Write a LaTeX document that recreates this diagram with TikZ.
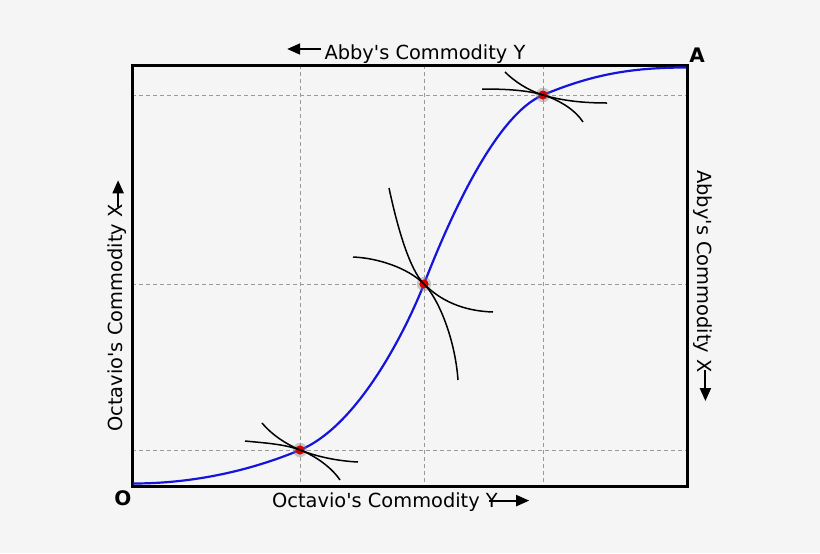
\documentclass[tikz,border=0pt]{standalone}
\usepackage{fontspec}
\setmainfont{DejaVu Sans}
\usetikzlibrary{arrows.meta}
\definecolor{bgGray}{HTML}{F5F5F5}
\definecolor{gridGray}{HTML}{9A9A9A}
\definecolor{ccBlue}{HTML}{1414DC}

\begin{document}
\begin{tikzpicture}[x=0.5pt, y=-0.5pt,
    >={Triangle[length=6.5pt,width=5.5pt]},
    font=\fontsize{9.7}{11.6}\selectfont,
    lbl/.style={inner sep=0pt},
    axarrow/.style={->, line width=1pt},
    gridline/.style={gridGray, line width=0.5pt, dash pattern=on 2pt off 1.5pt},
    icurve/.style={black, line width=0.75pt},
    eqpt/.style={red!85!black}]
  \fill[bgGray] (0,0) rectangle (820,553);
  \useasboundingbox (0,0) rectangle (820,553);

  % grid through the three allocations
  \foreach \gx in {300,424,543}
    \draw[gridline] (\gx,65) -- (\gx,486);
  \foreach \gy in {95,284,450}
    \draw[gridline] (132,\gy) -- (687,\gy);

  % Edgeworth box
  \draw[line width=1.5pt] (132,65) rectangle (687,486);

  \coordinate (E1) at (300,450);
  \coordinate (E2) at (424,284);
  \coordinate (E3) at (543,95);

  % contract curve
  \draw[ccBlue, line width=1.1pt] (133,483.5)
    .. controls (195,483.5) and (252,470) .. (E1)
    .. controls (360,425) and (408,325) .. (E2)
    .. controls (448,222) and (495,115) .. (E3)
    .. controls (591,75) and (630,67.5) .. (686,67.5);

  % allocations
  \foreach \p in {E1,E2,E3} {
    \fill[gray, opacity=0.4] (\p) circle (3.6pt);
    \fill[eqpt] (\p) circle (2.3pt);
  }

  % indifference curves, Octavio then Abby
  \draw[icurve] (262,423) .. controls (272,435) and (286,444) .. (E1)
    .. controls (318,457) and (338,461) .. (358,462);
  \draw[icurve] (245,441) .. controls (265,443) and (284,444) .. (E1)
    .. controls (316,456) and (332,468) .. (340,480);

  \draw[icurve] (389,188) .. controls (398,230) and (410,270) .. (E2)
    .. controls (440,300) and (462,311) .. (493,312);
  \draw[icurve] (353,257) .. controls (378,258) and (408,268) .. (E2)
    .. controls (438,298) and (455,338) .. (458,380);

  \draw[icurve] (505,72) .. controls (514,81) and (528,90.5) .. (E3)
    .. controls (563,101) and (585,103) .. (607,103);
  \draw[icurve] (482,89) .. controls (500,89) and (525,89.5) .. (E3)
    .. controls (561,100.5) and (576,111) .. (583,122);

  % axis labels
  \node[lbl, anchor=base] (botlab) at (385,507) {Octavio\textquotesingle s Commodity Y};
  \draw[axarrow] ([xshift=-4.5pt, yshift=3.2pt]botlab.base east) -- ++(40,0);
  \node[lbl, anchor=base] (toplab) at (425,59) {Abby\textquotesingle s Commodity Y};
  \draw[axarrow] ([xshift=-1.5pt, yshift=5pt]toplab.base west) -- ++(-34,0);
  \node[lbl, rotate=90, anchor=base] (leftlab) at (122.7,318) {Octavio\textquotesingle s Commodity X};
  \draw[axarrow] ([xshift=-2.3pt, yshift=-1.6pt]leftlab.base east) -- ++(0,-27);
  \node[lbl, rotate=-90, anchor=base] (rightlab) at (697,271.5) {Abby\textquotesingle s Commodity X};
  \draw[axarrow] ([xshift=4.2pt, yshift=1.5pt]rightlab.base east) -- ++(0,31);

  \node[font=\fontsize{10}{12}\selectfont\bfseries] (O) at (123,498) {O};
  \node[font=\fontsize{10}{12}\selectfont\bfseries] (A) at (697,55.5) {A};
\end{tikzpicture}
\end{document}
